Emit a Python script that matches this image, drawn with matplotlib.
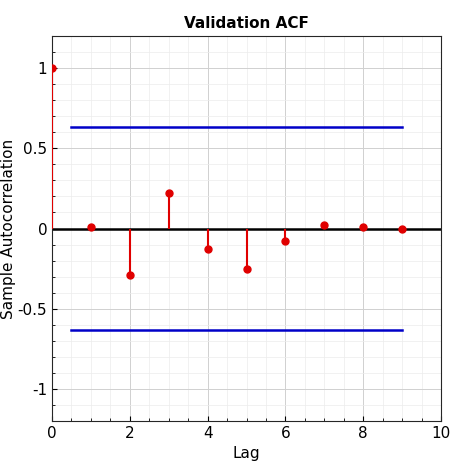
import matplotlib.pyplot as plt
from matplotlib.ticker import AutoMinorLocator

lags = [0, 1, 2, 3, 4, 5, 6, 7, 8, 9]
acf = [1.0, 0.01, -0.29, 0.22, -0.13, -0.25, -0.08, 0.02, 0.01, 0.0]
bound = 0.63
bound_x = [0.5, 9]

fig = plt.figure(figsize=(4.74, 4.74), dpi=100)
ax = fig.add_axes([52 / 474, 1 - 421 / 474, (441 - 52) / 474, (421 - 36) / 474])

ax.axhline(0, color="black", lw=1.8, zorder=2)
ax.vlines(lags, 0, acf, color="#e00000", lw=1.5, zorder=3)
ax.plot(lags, acf, "o", color="#e00000", ms=5, zorder=4)
ax.plot(bound_x, [bound, bound], color="#0000c8", lw=1.8)
ax.plot(bound_x, [-bound, -bound], color="#0000c8", lw=1.8)

ax.set_xlim(0, 10)
ax.set_ylim(-1.2, 1.2)
ax.set_xticks([0, 2, 4, 6, 8, 10])
ax.set_yticks([-1, -0.5, 0, 0.5, 1])
ax.set_yticklabels(["-1", "-0.5", "0", "0.5", "1"])
ax.xaxis.set_minor_locator(AutoMinorLocator(4))
ax.yaxis.set_minor_locator(AutoMinorLocator(5))
ax.grid(which="major", color="#d0d0d0", lw=0.7)
ax.grid(which="minor", color="#ececec", lw=0.5)
ax.set_axisbelow(True)
ax.tick_params(labelsize=11, direction="in", which="both")
for s in ax.spines.values():
    s.set_color("#262626")

ax.set_title("Validation ACF", fontsize=11, fontweight="bold")
ax.set_xlabel("Lag", fontsize=11)
ax.set_ylabel("Sample Autocorrelation", fontsize=11, labelpad=1)

fig.savefig("out.png", dpi=100)
